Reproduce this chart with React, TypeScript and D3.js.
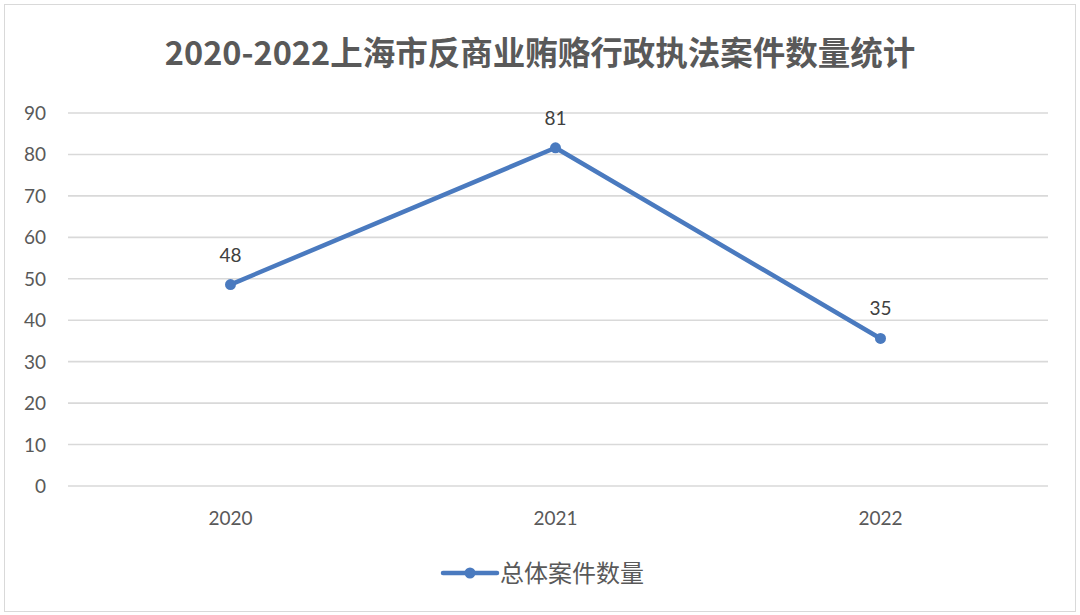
import { useEffect, useRef } from "react";
import * as d3 from "d3";

const years = ["2020", "2021", "2022"];
const caseCounts = [48, 81, 35];
const yTicks = [0, 10, 20, 30, 40, 50, 60, 70, 80, 90];
const title = "2020-2022上海市反商业贿赂行政执法案件数量统计";
const seriesName = "总体案件数量";

const WIDTH = 1080;
const HEIGHT = 615;
const LINE_COLOR = "#4a7abf";
const TEXT_COLOR = "#595959";
const GRID_COLOR = "#d9d9d9";
const NUM_FONT = "Lato, 'Noto Sans CJK SC', sans-serif";
const CJK_FONT = "'Noto Sans CJK SC', sans-serif";

export default function App() {
  const ref = useRef<SVGSVGElement | null>(null);

  useEffect(() => {
    const node = ref.current;
    if (!node) return;
    const svg = d3.select(node);
    svg.selectAll("*").remove();

    const marginLeft = 68;
    const marginRight = 37;
    const plotTop = 113;
    const plotBottom = 486;

    const x = d3
      .scaleBand<string>()
      .domain(years)
      .range([marginLeft, WIDTH - marginRight]);

    const y = d3.scaleLinear().domain([0, 90]).range([plotBottom, plotTop]);

    // chart area border
    svg
      .append("rect")
      .attr("x", 4.5)
      .attr("y", 4.5)
      .attr("width", WIDTH - 9)
      .attr("height", HEIGHT - 8)
      .attr("fill", "#ffffff")
      .attr("stroke", "#d9d9d9")
      .attr("stroke-width", 1);

    svg
      .append("text")
      .attr("x", 540)
      .attr("y", 65)
      .attr("text-anchor", "middle")
      .attr("font-family", CJK_FONT)
      .attr("font-weight", 700)
      .attr("font-size", 32.5)
      .attr("fill", TEXT_COLOR)
      .text(title);

    // gridlines
    svg
      .append("g")
      .selectAll("line")
      .data(yTicks)
      .join("line")
      .attr("x1", marginLeft)
      .attr("x2", 1048)
      .attr("y1", (d) => y(d))
      .attr("y2", (d) => y(d))
      .attr("stroke", GRID_COLOR)
      .attr("stroke-width", 1.6);

    // y tick labels
    svg
      .append("g")
      .selectAll("text")
      .data(yTicks)
      .join("text")
      .attr("x", 46)
      .attr("y", (d) => y(d) + 7)
      .attr("text-anchor", "end")
      .attr("font-family", NUM_FONT)
      .attr("font-size", 19)
      .attr("fill", TEXT_COLOR)
      .text((d) => String(d));

    // x tick labels
    svg
      .append("g")
      .selectAll("text")
      .data(years)
      .join("text")
      .attr("x", (d) => (x(d) ?? 0) + x.bandwidth() / 2)
      .attr("y", 525)
      .attr("text-anchor", "middle")
      .attr("font-family", NUM_FONT)
      .attr("font-size", 19)
      .attr("fill", TEXT_COLOR)
      .text((d) => d);

    const points = years.map((yr, i) => ({ year: yr, value: caseCounts[i] }));
    const cx = (d: { year: string }) => (x(d.year) ?? 0) + x.bandwidth() / 2;
    // Excel's marker sits a few pixels above the exact value position
    const cy = (d: { value: number }) => y(d.value) - 2.5;

    const line = d3
      .line<{ year: string; value: number }>()
      .x(cx)
      .y(cy);

    svg
      .append("path")
      .datum(points)
      .attr("d", line)
      .attr("fill", "none")
      .attr("stroke", LINE_COLOR)
      .attr("stroke-width", 4.5)
      .attr("stroke-linejoin", "round")
      .attr("stroke-linecap", "round");

    svg
      .append("g")
      .selectAll("circle")
      .data(points)
      .join("circle")
      .attr("cx", cx)
      .attr("cy", cy)
      .attr("r", 5.5)
      .attr("fill", LINE_COLOR);

    svg
      .append("g")
      .selectAll("text")
      .data(points)
      .join("text")
      .attr("x", cx)
      .attr("y", (d) => cy(d) - 23)
      .attr("text-anchor", "middle")
      .attr("font-family", NUM_FONT)
      .attr("font-size", 19)
      .attr("fill", "#404040")
      .text((d) => String(d.value));

    // legend
    const legend = svg.append("g").attr("transform", "translate(443,573)");
    legend
      .append("line")
      .attr("x1", 0)
      .attr("x2", 54)
      .attr("y1", 0)
      .attr("y2", 0)
      .attr("stroke", LINE_COLOR)
      .attr("stroke-width", 4.5)
      .attr("stroke-linecap", "round");
    legend.append("circle").attr("cx", 27).attr("cy", 0).attr("r", 5.5).attr("fill", LINE_COLOR);
    legend
      .append("text")
      .attr("x", 57)
      .attr("y", 9)
      .attr("font-family", CJK_FONT)
      .attr("font-size", 24)
      .attr("fill", TEXT_COLOR)
      .text(seriesName);
  }, []);

  return (
    <svg
      ref={ref}
      width={WIDTH}
      height={HEIGHT}
      style={{ position: "absolute", left: 0, top: 0, background: "#ffffff" }}
    />
  );
}
